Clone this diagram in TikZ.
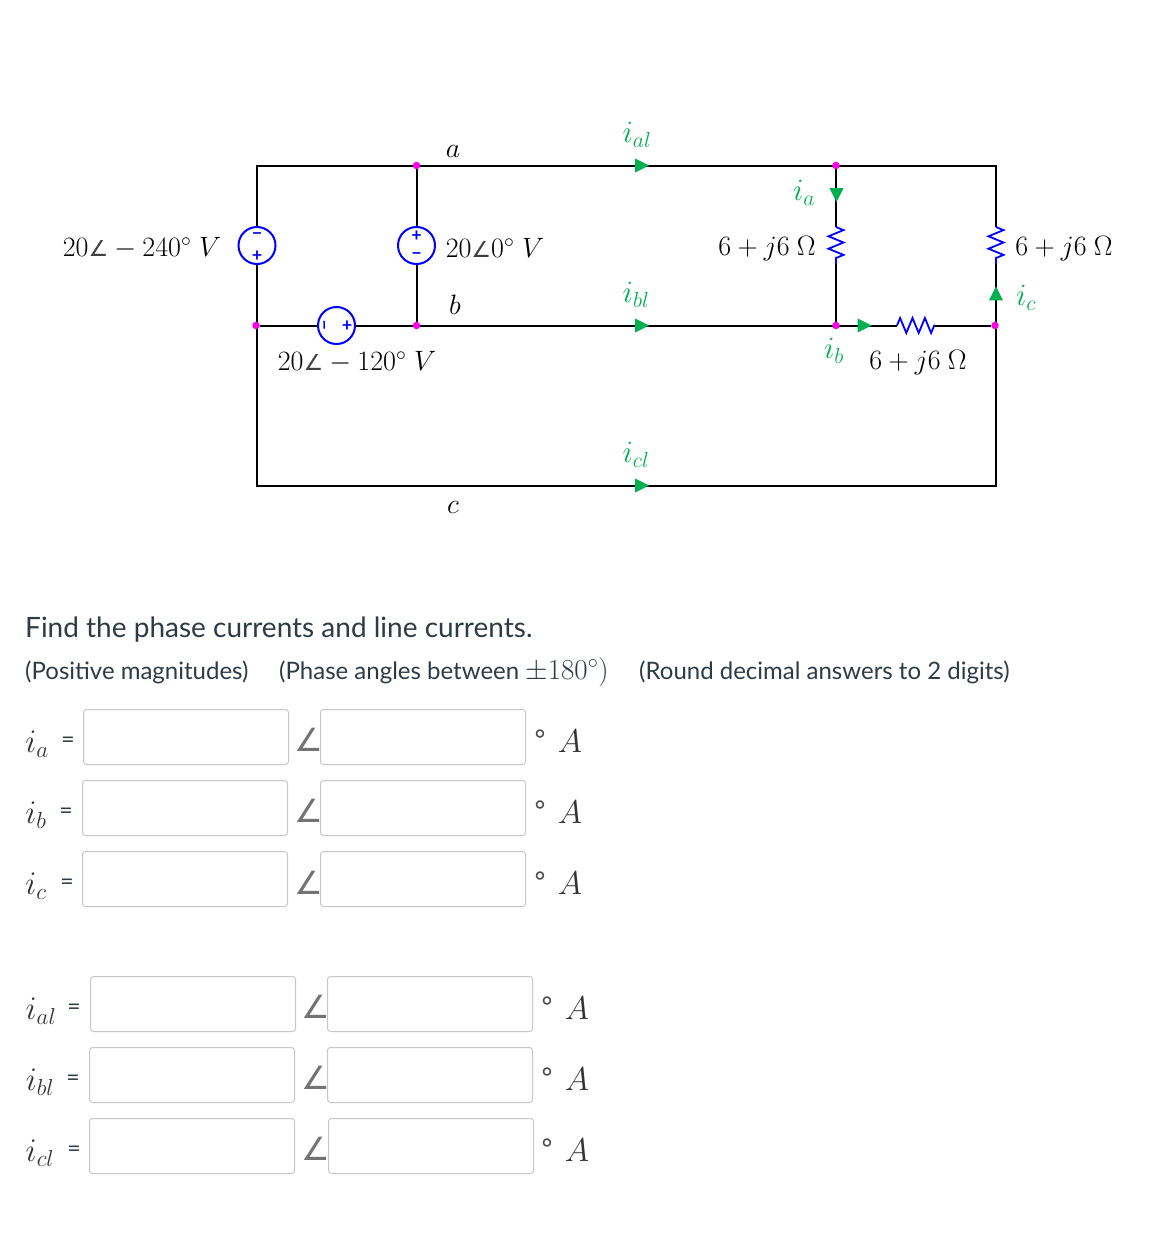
\documentclass[tikz,border=0pt]{standalone}
\usepackage{fix-cm}
\usepackage{fontspec}
\setmainfont{Lato}
\newfontfamily\anglefont{DejaVu Sans}
\usetikzlibrary{shapes.geometric,decorations.pathmorphing,backgrounds}
\definecolor{srcblue}{RGB}{0,0,255}
\definecolor{curgreen}{RGB}{0,176,80}
\definecolor{dotpink}{RGB}{255,0,230}
\definecolor{bodygray}{RGB}{45,59,69}
\newcommand{\ang}{\mbox{\anglefont\fontsize{22}{22}\selectfont\color{black!75}∠}}
\begin{document}
\begin{tikzpicture}[x=1pt,y=-1pt]
	\tikzstyle{wire}=[draw=black,line width=2pt]
	\tikzstyle{source}=[circle,draw=srcblue,fill=white,line width=2pt,minimum size=37pt,inner sep=0pt]
	\tikzstyle{sign}=[text=srcblue,inner sep=0pt,font=\fontsize{18}{18}\selectfont\bfseries]
	\tikzstyle{junction}=[circle,fill=dotpink,minimum size=7.5pt,inner sep=0pt]
	\tikzstyle{resistor}=[draw=srcblue,line width=1.8pt,decorate,decoration={zigzag,segment length=12.4pt,amplitude=7.5pt}]
	\tikzstyle{tip}=[isosceles triangle,isosceles triangle stretches,fill=curgreen,minimum width=14pt,minimum height=14pt,inner sep=0pt]
	\tikzstyle{circuit}=[inner sep=0pt,font=\fontsize{28}{30}\selectfont]
	\tikzstyle{current}=[inner sep=0pt,text=curgreen,font=\fontsize{31}{32}\selectfont]
	\tikzstyle{prompt}=[inner sep=0pt,anchor=base west,text=bodygray]
	\tikzstyle{answer}=[draw=black!22,fill=white,line width=1pt,rounded corners=3pt,minimum width=205pt,minimum height=55pt,inner sep=0pt]
	\tikzstyle{symbol}=[inner sep=0pt,text=black!80,font=\fontsize{33}{34}\selectfont]
	\tikzstyle{nangle}=[inner sep=0pt,text=black!55,font=\anglefont\fontsize{32}{32}\selectfont]
	\tikzstyle{degree}=[inner sep=0pt,text=black!70,font=\anglefont\fontsize{27}{27}\selectfont]
	\tikzstyle{equals}=[inner sep=0pt,text=bodygray,font=\fontsize{23}{24}\selectfont]

	\useasboundingbox (0,0) rectangle (1159,1258);

	% corners and junctions
	\coordinate (tl) at (257,165.5);
	\coordinate (tr) at (996,165.5);
	\coordinate (bl) at (257,485.5);
	\coordinate (br) at (996,485.5);
	\node [junction] (a1) at (416.5,165.5) {};
	\node [junction] (a2) at (836,165.5) {};
	\node [junction] (b0) at (256,325.5) {};
	\node [junction] (b1) at (416.5,325.5) {};
	\node [junction] (b2) at (836,325.5) {};
	\node [junction] (b3) at (995,325.5) {};

	% sources
	\node [source] (vc) at (257,245.5) {};
	\node [source] (va) at (416.5,245.5) {};
	\node [source] (vb) at (336.5,325.5) {};
	\node [sign] (vcm) at (257,236.5) {−};
	\node [sign] (vcp) at (257,256.5) {+};
	\node [sign] (vap) at (416.5,236.5) {+};
	\node [sign] (vam) at (416.5,256.5) {−};
	\node [sign,rotate=90] (vbm) at (327,325.5) {−};
	\node [sign] (vbp) at (347,326) {+};

	% resistor ends
	\coordinate (ra1) at (836,227);
	\coordinate (ra2) at (836,264);
	\coordinate (rc1) at (996,227);
	\coordinate (rc2) at (996,264);
	\coordinate (rb1) at (897,325.5);
	\coordinate (rb2) at (935,325.5);

	% wires
	\begin{scope}[on background layer]
		\path[wire] (vc) -- (tl) -- (tr) -- (rc1);
		\path[wire] (rc2) -- (br) -- (bl) -- (vc);
		\path[wire] (a1) -- (va);
		\path[wire] (va) -- (b1);
		\path[wire] (b0) -- (vb);
		\path[wire] (vb) -- (b1) -- (rb1);
		\path[wire] (rb2) -- (b3);
		\path[wire] (a2) -- (ra1);
		\path[wire] (ra2) -- (b2);
	\end{scope}
	\path[resistor] (ra1) -- (ra2);
	\path[resistor] (rc1) -- (rc2);
	\path[resistor] (rb1) -- (rb2);

	% current arrows
	\node [tip] (tal) at (639.5,165.5) {};
	\node [tip] (tbl) at (639.5,325.5) {};
	\node [tip] (tcl) at (639.5,485.5) {};
	\node [tip] (tb) at (862,325.5) {};
	\node [tip,shape border rotate=-90] (ta) at (836.5,192.5) {};
	\node [tip,shape border rotate=90] (tc) at (996,296) {};

	% circuit labels
	\node [circuit] (la) at (453,151) {$a$};
	\node [circuit] (lb) at (455,305) {$b$};
	\node [circuit] (lc) at (453,507) {$c$};
	\node [circuit] (lvc) at (142,248) {$20\ang-240^\circ\;V$};
	\node [circuit] (lva) at (495,248) {$20\ang0^\circ\;V$};
	\node [circuit] (lvb) at (357,362) {$20\ang-120^\circ\;V$};
	\node [circuit] (lra) at (767,249) {$6+j6\ \Omega$};
	\node [circuit] (lrc) at (1064,249) {$6+j6\ \Omega$};
	\node [circuit] (lrb) at (918,363) {$6+j6\ \Omega$};
	\node [current] (lal) at (637,135) {$i_{al}$};
	\node [current] (lbl) at (636,295) {$i_{bl}$};
	\node [current] (lcl) at (636,455) {$i_{cl}$};
	\node [current] (lia) at (804,193) {$i_a$};
	\node [current] (lib) at (834,351) {$i_b$};
	\node [current] (lic) at (1026,298) {$i_c$};

	% question text
	\node [prompt,font=\fontsize{28}{30}\selectfont] (find) at (25,637) {Find the phase currents and line currents.};
	\node [prompt,font=\fontsize{24}{26}\selectfont] (pos) at (25,679) {(Positive magnitudes)};
	\node [prompt,font=\fontsize{24}{26}\selectfont] (pha) at (279,679) {(Phase angles between {\fontsize{29}{30}\selectfont$\pm 180^\circ)$}};
	\node [prompt,font=\fontsize{24}{26}\selectfont] (rnd) at (639,679) {(Round decimal answers to 2 digits)};

	% phase currents
	\node [answer] (m1) at (186,737) {};
	\node [answer] (p1) at (423,737) {};
	\node [answer] (m2) at (185,808) {};
	\node [answer] (p2) at (423,808) {};
	\node [answer] (m3) at (185,879) {};
	\node [answer] (p3) at (423,879) {};
	\node [symbol] (i1) at (37,744) {$i_a$};
	\node [symbol] (i2) at (36,815) {$i_b$};
	\node [symbol] (i3) at (36,886) {$i_c$};
	\node [equals] (e1) at (68,742) {=};
	\node [equals] (e2) at (66,813) {=};
	\node [equals] (e3) at (67,884) {=};
	\node [nangle] (n1) at (308.5,740) {∠};
	\node [nangle] (n2) at (308.5,811) {∠};
	\node [nangle] (n3) at (308.5,883) {∠};
	\node [degree] (d1) at (540,736) {∘};
	\node [degree] (d2) at (540,807) {∘};
	\node [degree] (d3) at (540,878) {∘};
	\node [symbol] (u1) at (570,741) {$A$};
	\node [symbol] (u2) at (570,812) {$A$};
	\node [symbol] (u3) at (570,883) {$A$};

	% line currents
	\node [answer] (m4) at (193,1004) {};
	\node [answer] (p4) at (430,1004) {};
	\node [answer] (m5) at (192,1075) {};
	\node [answer] (p5) at (430,1075) {};
	\node [answer] (m6) at (192,1146) {};
	\node [answer] (p6) at (431,1146) {};
	\node [symbol] (i4) at (41,1011) {$i_{al}$};
	\node [symbol] (i5) at (40,1082) {$i_{bl}$};
	\node [symbol] (i6) at (40,1153) {$i_{cl}$};
	\node [equals] (e4) at (74,1009) {=};
	\node [equals] (e5) at (73,1080) {=};
	\node [equals] (e6) at (74,1151) {=};
	\node [nangle] (n4) at (315.5,1007) {∠};
	\node [nangle] (n5) at (315.5,1078) {∠};
	\node [nangle] (n6) at (315.5,1149) {∠};
	\node [degree] (d4) at (547,1003) {∘};
	\node [degree] (d5) at (547,1074) {∘};
	\node [degree] (d6) at (547,1145) {∘};
	\node [symbol] (u4) at (577,1008) {$A$};
	\node [symbol] (u5) at (577,1079) {$A$};
	\node [symbol] (u6) at (577,1150) {$A$};
\end{tikzpicture}
\end{document}
